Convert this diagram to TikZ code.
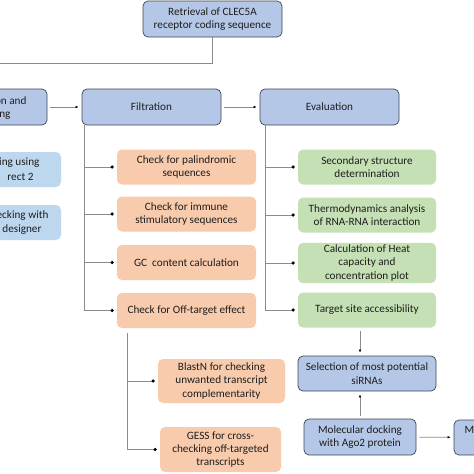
\documentclass[tikz,border=0pt]{standalone}
\usepackage{fontspec}
\setmainfont{Carlito}
\usetikzlibrary{arrows.meta}
\definecolor{blufill}{HTML}{B4C7E7}
\definecolor{bluedge}{HTML}{3E4654}
\definecolor{skyfill}{HTML}{BDD7EE}
\definecolor{orafill}{HTML}{F8CBAD}
\definecolor{grnfill}{HTML}{C5E0B4}
\definecolor{linkgray}{HTML}{8C8C8C}
\definecolor{inkgray}{HTML}{1E1E1E}
\begin{document}
\begin{tikzpicture}[x=1pt,y=-1pt,
        font=\fontsize{11.2}{13.4}\selectfont,text=inkgray,
        box/.style={rounded corners=5pt,align=center,inner sep=2pt,
            minimum width=#1},
        blubox/.style={box=#1,fill=blufill,draw=bluedge,line width=0.7pt},
        skybox/.style={box=#1,fill=skyfill},
        orabox/.style={box=#1,fill=orafill},
        grnbox/.style={box=#1,fill=grnfill},
        link/.style={draw=linkgray,line width=0.8pt},
        go/.style={link,-{Latex[length=3pt,width=2.6pt,black]},shorten >=3pt,shorten <=3pt},
        tap/.style={link,-{Circle[length=3.2pt,black]},shorten >=3pt}
        ]
        \useasboundingbox (0,0) rectangle (474,474);
        \clip (0,0) rectangle (474,474);
        \fill[white] (0,0) rectangle (474,474);

        \node[blubox=139pt,minimum height=36pt] (top) at (212.5,19) {Retrieval of CLEC5A\\receptor coding sequence};
        \node[blubox=140pt,minimum height=36pt] (lft) at (-23,107) {};
        \node[anchor=east] at (30,101) {on and};
        \node[anchor=east] at (14,115) {ing};
        \node[blubox=139pt,minimum height=36pt] (filt) at (151.5,107) {Filtration};
        \node[blubox=139pt,minimum height=36pt] (eval) at (329.5,107) {Evaluation};

        \node[skybox=140pt,minimum height=35pt] (sky1) at (-9,169.5) {};
        \node[anchor=east] at (43,163) {cing using};
        \node[anchor=east] at (37,177) {rect 2};
        \node[skybox=140pt,minimum height=35pt] (sky2) at (-9,222.5) {};
        \node[anchor=east] at (52,216) {ecking with};
        \node[anchor=east] at (45,230) {designer};

        \node[orabox=139pt,minimum height=35pt] (or1) at (186.5,167) {Check for palindromic\\sequences};
        \node[orabox=139pt,minimum height=35pt] (or2) at (186.5,214) {Check for immune\\stimulatory sequences};
        \node[orabox=139pt,minimum height=35pt] (or3) at (186.5,262.5) {GC\ \ content calculation};
        \node[orabox=139pt,minimum height=35pt] (or4) at (186.5,310.5) {Check for Off-target effect};
        \node[orabox=127pt,minimum height=44pt] (blast) at (221.5,381) {BlastN for checking\\unwanted transcript\\complementarity};
        \node[orabox=121pt,minimum height=45pt] (gess) at (220.5,449.5) {GESS for cross-\\checking off-targeted\\transcripts};

        \node[grnbox=138pt,minimum height=35pt] (gr1) at (367,167) {Secondary structure\\determination};
        \node[grnbox=138pt,minimum height=35pt] (gr2) at (367,215) {Thermodynamics analysis\\of RNA-RNA interaction};
        \node[grnbox=138pt,minimum height=40pt] (gr3) at (367,263) {Calculation of Heat\\capacity and\\concentration plot};
        \node[grnbox=138pt,minimum height=35pt] (gr4) at (367,310) {Target site accessibility};

        \node[blubox=138pt,minimum height=35pt] (sel) at (367,373.5) {Selection of most potential\\siRNAs};
        \node[blubox=112pt,minimum height=36pt] (dock) at (360,437) {Molecular docking\\with Ago2 protein};
        \node[blubox=120pt,minimum height=35pt] (md) at (514,437.5) {};
        \node[anchor=west] at (461,430) {M-};

        \coordinate (cut) at (-20,63);
        \coordinate (ftr) at (84,125);
        \coordinate (etr) at (265,125);
        \coordinate (otr) at (127,333);

        \draw[link] (top.south) |- (cut);
        \draw[go] (lft) -- (filt);
        \draw[go] (filt) -- (eval);
        \draw[link] (ftr) -- (ftr |- or4);
        \draw[link] (etr) -- (etr |- gr4);
        \draw[link] (otr) -- (otr |- gess);
        \foreach \n in {or1,or2,or3,or4} {
            \draw[tap] (ftr |- \n) -- (\n);
        }
        \foreach \n in {gr1,gr2,gr3,gr4} {
            \draw[tap] (etr |- \n) -- (\n);
        }
        \foreach \n in {blast,gess} {
            \draw[tap] (otr |- \n) -- (\n);
        }
        \draw[go] ([xshift=-7pt]gr4.south) -- ([xshift=-7pt]sel.north);
        \draw[go] (dock.north) -- (dock.north |- sel.south);
        \draw[go] (dock) -- (md);
    \end{tikzpicture}
\end{document}
